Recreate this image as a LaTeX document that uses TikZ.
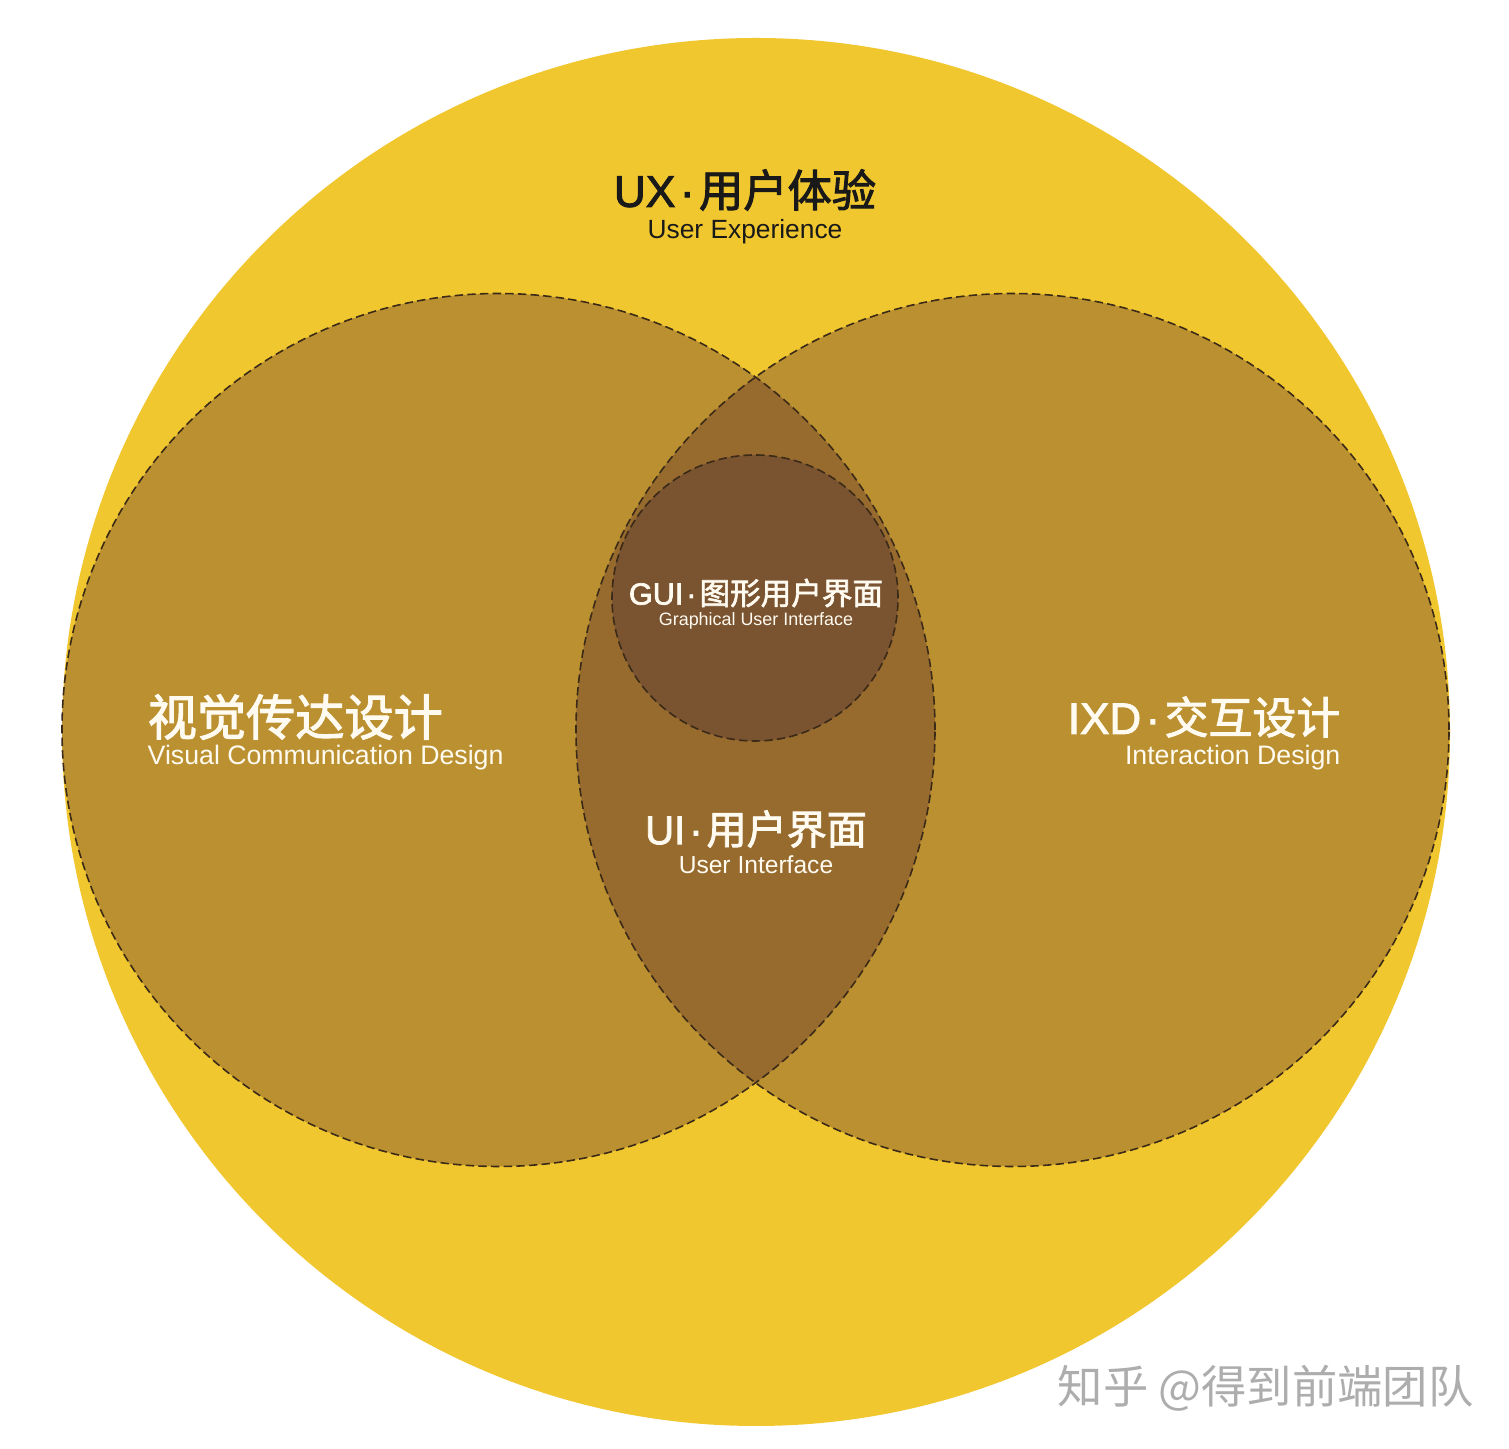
\documentclass[tikz,border=0pt]{standalone}
\usepackage{fontspec}
\setmainfont{Noto Sans CJK SC}
\newfontfamily\latin{Liberation Sans}
\newfontfamily\latinmid{Liberation Sans}[FakeBold=2.2]
\newfontfamily\cjkmid{Noto Sans CJK SC}[FakeBold=2.2]
\usepackage{xcolor}
\usepackage{tikz}
\usetikzlibrary{positioning}

\definecolor{uxyellow}{HTML}{F1C72F}
\definecolor{ringbrown}{HTML}{BB9030}
\definecolor{lensbrown}{HTML}{976A2E}
\definecolor{guibrown}{HTML}{7A5331}
\definecolor{ringline}{HTML}{3A2A17}
\definecolor{cream}{HTML}{FFFBF0}

% A heading: Latin letters, a narrow dot, then the Chinese words
\newcommand\headtext[2]{{\latinmid #1\kern.1em·\kern.1em}{\cjkmid #2}}

\begin{document}
\begin{tikzpicture}

        \useasboundingbox (0,0) rectangle (15.09,14.49);

        \def\r{4.365cm}
        \def\g{.07cm}

        % Looks of the rings and of their texts
        \tikzset{
            disc/.style={circle, inner sep=0pt},
            ring/.style={draw=ringline, line width=.45pt,
                dash pattern=on 2.4pt off 1.2pt},
            head/.style={inner sep=0pt, text=cream,
                font=\fontsize{#1}{#1}\selectfont},
            sub/.style={inner sep=0pt, text=cream,
                font=\latin\fontsize{#1}{#1}\selectfont},
        }

        % The discs, from the largest to the smallest
        \node (UX) [disc, fill=uxyellow, minimum size=13.88cm]
            at (7.56, 7.17) {};
        \node (VCD) [disc, fill=ringbrown, minimum size=2*\r]
            at (4.985, 7.19) {};
        \node (IXD) [disc, fill=ringbrown, minimum size=2*\r]
            at (10.125, 7.19) {};

        % Scope used to clip the common part of the two rings
        \begin{scope}
            \clip (VCD.center) circle (\r);
            \fill[lensbrown] (IXD.center) circle (\r);
        \end{scope}

        \draw[ring] (VCD.center) circle (\r);
        \draw[ring] (IXD.center) circle (\r);

        \node (GUI) [disc, ring, fill=guibrown, minimum size=2.86cm]
            at (7.55, 8.51) {};

        % Texts
        \begin{scope}
            \node (UXt) [head=12.6, text=black!90] at (7.45, 12.59)
            {\headtext{UX}{用户体验}};
            \node (UXs) [sub=7.5, text=black!90, below=\g of UXt]
            {User Experience};

            \node (GUIt) [head=8.7] at (7.56, 8.56)
            {\headtext{GUI}{图形用户界面}};
            \node (GUIs) [sub=5.1, below=.04cm of GUIt]
            {Graphical User Interface};

            \node (VCDt) [head=14.0, anchor=west] at (1.47, 7.32)
            {\cjkmid 视觉传达设计};
            \node (VCDs) [sub=7.6, below=.04cm of VCDt.south west, anchor=north west]
            {Visual Communication Design};

            \node (IXDt) [head=12.5, anchor=east] at (13.41, 7.32)
            {\headtext{IXD}{交互设计}};
            \node (IXDs) [sub=7.6, below=.06cm of IXDt.south east, anchor=north east]
            {Interaction Design};

            \node (UIt) [head=11.4] at (7.56, 6.20)
            {\headtext{UI}{用户界面}};
            \node (UIs) [sub=7.0, below=\g of UIt]
            {User Interface};

            \node (mark) [inner sep=0pt, anchor=west, text=black!32,
                font=\fontsize{12.9}{12.9}\selectfont] at (10.57, 0.61)
            {知乎 @得到前端团队};
        \end{scope}

\end{tikzpicture}
\end{document}
